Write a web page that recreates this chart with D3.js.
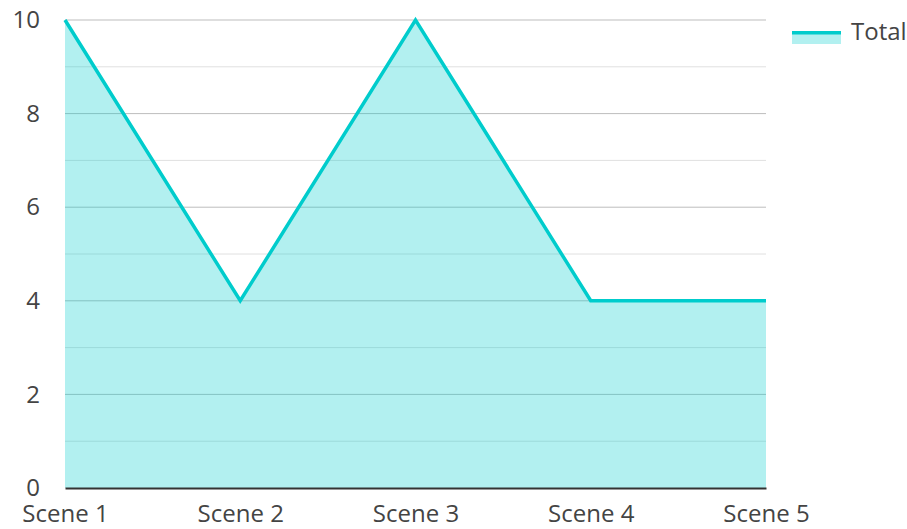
<!DOCTYPE html>
<html>
<head>
<meta charset="utf-8">
<script src="https://cdn.jsdelivr.net/npm/d3@7"></script>
<style>
  body { margin: 0; background: #fff; }
  text { font-family: "Open Sans", "Noto Sans", sans-serif; fill: #444; }
</style>
</head>
<body>
<div id="chart"></div>
<script>
// Data
var scenes = ['Scene 1', 'Scene 2', 'Scene 3', 'Scene 4', 'Scene 5'];
var totals = [10, 4, 10, 4, 4];
var yTicks = [0, 2, 4, 6, 8, 10];
var seriesName = 'Total';

var width = 907,
    height = 529,
    margin = { left: 65, right: 141, top: 20, bottom: 41 },
    lineColor = '#00cccc';

var chartWidth = width - margin.left - margin.right;
var chartHeight = height - margin.top - margin.bottom;

var svg = d3.select('#chart').append('svg')
    .attr('width', width)
    .attr('height', height);

var g = svg.append('g')
    .attr('transform', 'translate(' + margin.left + ',' + margin.top + ')');

var xScale = d3.scalePoint().domain(scenes).range([0, chartWidth]);
var yScale = d3.scaleLinear().domain([0, 10]).range([chartHeight, 0]);

// Grid lines (minor then major)
g.append('g').selectAll('line')
    .data(d3.range(1, 10, 2))
    .enter().append('line')
    .attr('x1', 0).attr('x2', chartWidth)
    .attr('y1', d => yScale(d)).attr('y2', d => yScale(d))
    .attr('stroke', '#e0e0e0').attr('stroke-width', 1);

g.append('g').selectAll('line')
    .data(yTicks.slice(1))
    .enter().append('line')
    .attr('x1', 0).attr('x2', chartWidth)
    .attr('y1', d => yScale(d)).attr('y2', d => yScale(d))
    .attr('stroke', '#bdbdbd').attr('stroke-width', 1);

var rows = scenes.map((s, i) => ({ scene: s, value: totals[i] }));

// Area
var area = d3.area()
    .x(d => xScale(d.scene))
    .y0(yScale(0))
    .y1(d => yScale(d.value));

g.append('path')
    .datum(rows)
    .attr('d', area)
    .attr('fill', lineColor)
    .attr('fill-opacity', 0.3);

// Line
var line = d3.line()
    .x(d => xScale(d.scene))
    .y(d => yScale(d.value));

g.append('path')
    .datum(rows)
    .attr('d', line)
    .attr('fill', 'none')
    .attr('stroke', lineColor)
    .attr('stroke-width', 3.5)
    .attr('stroke-linejoin', 'miter');

// Axes
var yAxis = d3.axisLeft(yScale).tickValues(yTicks).tickSize(0).tickPadding(25);
var yG = g.append('g').call(yAxis);
yG.select('.domain').remove();
yG.selectAll('text').style('font-size', '24px').attr('fill', '#444');

var xAxis = d3.axisBottom(xScale).tickSize(0).tickPadding(17);
var xG = g.append('g')
    .attr('transform', 'translate(0,' + chartHeight + ')')
    .call(xAxis);
xG.select('.domain').attr('stroke', '#333').attr('stroke-width', 2);
xG.selectAll('text').style('font-size', '24px').attr('fill', '#444');

// Legend
var legend = svg.append('g').attr('transform', 'translate(792,31)');
legend.append('rect')
    .attr('x', 0).attr('y', 0).attr('width', 49).attr('height', 13)
    .attr('fill', lineColor).attr('fill-opacity', 0.3);
legend.append('line')
    .attr('x1', 0).attr('x2', 49).attr('y1', 1.75).attr('y2', 1.75)
    .attr('stroke', lineColor).attr('stroke-width', 3.5);
legend.append('text')
    .attr('x', 59).attr('y', 9)
    .style('font-size', '24px')
    .text(seriesName);
</script>
</body>
</html>
